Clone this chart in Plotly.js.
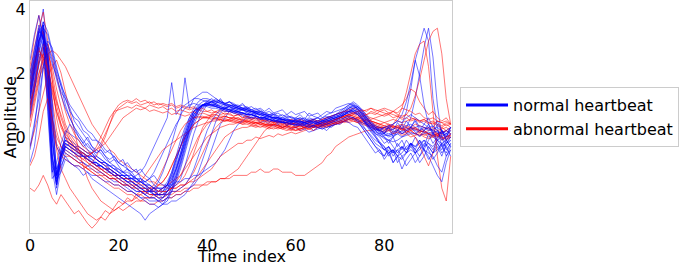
<!DOCTYPE html>
<html>
<head>
<meta charset="utf-8">
<script src="https://cdn.plot.ly/plotly-3.0.1.min.js"></script>
<style>html,body{margin:0;padding:0;background:#fff;}#chart{width:685px;height:265px;}</style>
</head>
<body>
<div id="chart"></div>
<script>
// Time index 0..95
const timeIndex = Array.from({length: 96}, (_, i) => i);
const xTicks = [0, 20, 40, 60, 80];
const yTicks = [0, 2, 4];
const legendLabels = ["normal heartbeat", "abnormal heartbeat"];
const xTitle = "Time index";
const yTitle = "Amplitude";

// ---- normal heartbeats (blue) ----
const normal01 = [1.2,2.2,3.1,3.6,2.0,-0.6,-1.3,-0.4,0.0,-0.1,
-0.2,-0.3,-0.4,-0.5,-0.5,-0.7,-0.8,-0.8,-0.9,-1.0,
-1.1,-1.1,-1.2,-1.3,-1.3,-1.4,-1.5,-1.5,-1.6,-1.7,
-1.7,-1.6,-1.4,-1.0,-0.6,-0.2,0.2,0.5,0.8,1.0,
1.05,1.1,1.05,1.2,1.0,1.1,1.05,0.95,1.05,0.9,
0.95,0.85,0.9,0.8,0.9,0.75,0.8,0.85,0.7,0.8,
0.7,0.75,0.8,0.65,0.7,0.75,0.6,0.7,0.75,0.8,
0.85,0.9,1.0,1.1,1.0,0.85,0.7,0.5,0.35,0.2,
0.1,0.3,0.0,0.2,0.4,0.1,0.3,0.5,0.2,0.4,
0.6,0.3,0.5,0.2,0.0,0.3];
const normal02 = [1.8,2.6,3.3,3.2,1.5,-0.9,-1.5,-0.6,-0.2,-0.3,
-0.4,-0.4,-0.6,-0.7,-0.8,-0.8,-1.0,-1.1,-1.1,-1.2,
-1.3,-1.3,-1.4,-1.5,-1.6,-1.6,-1.7,-1.8,-1.8,-1.9,
-1.9,-1.8,-1.6,-1.3,-0.9,-0.4,0.1,0.5,0.8,0.95,
1.05,1.1,1.1,1.05,1.0,0.95,0.9,0.9,0.85,0.8,
0.8,0.75,0.7,0.65,0.6,0.6,0.55,0.55,0.5,0.5,
0.5,0.5,0.45,0.4,0.45,0.4,0.35,0.4,0.45,0.5,
0.6,0.7,0.8,0.9,0.95,0.85,0.65,0.4,0.2,0.05,
-0.05,-0.1,-0.15,-0.1,0.0,0.05,0.1,0.1,0.2,0.15,
0.1,0.0,-0.1,-0.2,-0.1,0.1];
const normal03 = [1.5,2.4,3.2,4.0,2.6,0.2,-1.6,-0.8,-0.3,-0.2,
-0.3,-0.5,-0.5,-0.6,-0.8,-0.9,-0.9,-1.0,-1.1,-1.2,
-1.2,-1.3,-1.4,-1.4,-1.5,-1.6,-1.6,-1.7,-1.7,-1.8,
-1.8,-1.6,-1.3,-0.9,-0.5,0.0,0.4,0.7,0.9,1.0,
1.1,1.1,1.0,0.9,0.85,0.8,0.75,0.8,0.65,0.6,
0.55,0.6,0.45,0.5,0.4,0.35,0.4,0.3,0.35,0.25,
0.3,0.2,0.25,0.15,0.2,0.25,0.3,0.2,0.35,0.4,
0.45,0.5,0.55,0.6,0.5,0.3,0.1,-0.1,-0.3,-0.5,
-0.6,-0.4,-0.8,-0.6,-1.0,-0.7,-0.5,-0.8,-0.6,-0.4,
-0.7,-0.5,-0.3,-0.6,-0.2,0.0];
const normal04 = [1.0,1.8,2.8,3.3,2.2,-0.2,-1.2,-0.5,-0.1,-0.2,
-0.3,-0.4,-0.5,-0.6,-0.6,-0.7,-0.8,-0.9,-0.9,-1.0,
-1.1,-1.2,-1.2,-1.3,-1.4,-1.4,-1.5,-1.6,-1.6,-1.7,
-1.6,-1.5,-1.2,-0.8,-0.3,0.1,0.5,0.8,0.9,1.0,
1.0,1.0,0.95,0.9,0.9,0.85,0.8,0.8,0.75,0.7,
0.7,0.65,0.6,0.6,0.55,0.55,0.5,0.5,0.45,0.45,
0.4,0.4,0.45,0.4,0.35,0.35,0.4,0.4,0.45,0.5,
0.5,0.55,0.6,0.6,0.55,0.45,0.35,0.25,0.15,0.1,
0.05,0.05,0.1,0.2,0.4,0.8,1.5,2.4,2.9,3.4,
3.0,1.2,0.3,-0.3,-0.2,0.0];
const normal05 = [1.3,2.1,3.0,3.5,2.3,0.0,-1.2,-0.6,-0.3,-0.4,
-0.5,-0.6,-0.6,-0.7,-0.8,-0.8,-0.9,-1.0,-1.0,-1.1,
-1.2,-1.2,-1.3,-1.3,-1.4,-1.5,-1.6,-1.6,-1.7,-1.7,
-1.6,-1.4,-1.1,-0.7,-0.3,0.1,0.5,0.8,0.95,1.0,
1.05,1.0,1.0,0.95,0.9,0.85,0.85,0.8,0.75,0.7,
0.7,0.65,0.6,0.6,0.55,0.5,0.5,0.45,0.45,0.4,
0.4,0.45,0.4,0.45,0.5,0.45,0.5,0.55,0.6,0.65,
0.7,0.75,0.8,0.8,0.7,0.55,0.4,0.25,0.1,0.05,
0.0,-0.1,0.0,0.1,0.2,0.3,0.6,1.2,2.0,2.8,
3.4,2.5,1.0,0.0,-0.4,-0.2];
const normal06 = [0.8,1.6,2.6,3.2,2.4,0.5,-1.0,-0.6,-0.2,-0.3,
-0.4,-0.5,-0.6,-0.6,-0.7,-0.8,-0.9,-1.0,-1.0,-1.1,
-1.2,-1.2,-1.3,-1.3,-1.2,-1.1,-0.9,-0.6,-0.3,0.0,
0.3,0.6,1.7,0.7,0.9,1.0,1.1,1.2,1.2,1.15,
1.1,1.05,1.0,1.0,0.95,0.9,0.9,0.85,0.85,0.8,
0.75,0.75,0.7,0.65,0.65,0.6,0.6,0.55,0.55,0.5,
0.5,0.45,0.5,0.55,0.5,0.45,0.5,0.55,0.6,0.6,
0.65,0.7,0.75,0.8,0.75,0.6,0.45,0.3,0.2,0.1,
0.1,0.05,0.1,0.15,0.1,0.2,0.25,0.2,0.15,0.2,
0.1,0.05,0.1,0.0,0.1,0.2];
const normal07 = [1.4,2.3,3.0,3.4,1.8,-0.7,-1.4,-0.5,-0.1,-0.2,
-0.3,-0.3,-0.4,-0.5,-0.6,-0.6,-0.7,-0.8,-0.9,-0.9,
-1.0,-1.1,-1.1,-1.2,-1.3,-1.3,-1.4,-1.3,-1.1,-0.8,
-0.5,-0.2,0.1,0.4,0.6,1.85,0.9,1.2,1.3,1.4,
1.4,1.3,1.2,1.1,1.05,1.0,0.95,0.9,0.9,0.85,
0.8,0.8,0.75,0.7,0.7,0.65,0.6,0.6,0.55,0.55,
0.5,0.55,0.5,0.45,0.5,0.45,0.5,0.5,0.55,0.6,
0.7,0.8,0.9,1.0,0.95,0.8,0.6,0.4,0.25,0.15,
0.1,0.0,0.05,0.1,0.0,0.1,0.15,0.1,0.05,0.1,
0.15,0.1,0.0,0.05,0.1,0.0];
const normal08 = [1.1,2.0,2.9,3.3,2.0,-0.5,-1.5,-0.7,-0.4,-0.5,
-0.6,-0.7,-0.8,-0.9,-0.9,-1.0,-1.1,-1.2,-1.3,-1.3,
-1.4,-1.5,-1.5,-1.6,-1.7,-1.7,-1.8,-1.9,-1.9,-2.0,
-2.0,-1.9,-1.9,-1.8,-1.8,-1.7,-1.6,-1.5,-1.3,-1.1,
-0.8,-0.4,0.0,0.4,0.6,0.8,0.9,0.95,0.9,0.85,
0.8,0.8,0.75,0.7,0.65,0.6,0.6,0.55,0.5,0.5,
0.45,0.4,0.4,0.35,0.35,0.4,0.35,0.3,0.35,0.4,
0.45,0.5,0.55,0.6,0.55,0.4,0.2,0.0,-0.2,-0.3,
-0.4,-0.5,-0.4,-0.6,-0.5,-0.3,-0.2,-0.3,-0.2,-0.1,
-0.2,-0.3,-0.1,0.0,-0.2,-0.1];
const normal09 = [-0.4,0.3,1.5,2.8,1.2,-1.0,-1.8,-1.0,-0.5,-0.6,
-0.7,-0.8,-0.8,-0.9,-1.0,-1.1,-1.1,-1.2,-1.3,-1.4,
-1.4,-1.5,-1.6,-1.7,-1.8,-1.9,-2.0,-2.1,-2.1,-2.2,
-2.1,-2.0,-1.7,-1.3,-0.8,-0.3,0.2,0.6,0.9,1.0,
1.0,1.0,0.95,0.9,0.9,0.85,0.8,0.75,0.75,0.7,
0.65,0.7,0.55,0.6,0.45,0.55,0.4,0.5,0.35,0.45,
0.3,0.4,0.25,0.35,0.2,0.3,0.25,0.35,0.3,0.4,
0.45,0.5,0.6,0.55,0.45,0.3,0.1,-0.1,-0.3,-0.4,
-0.6,-0.3,-0.5,-0.2,-0.4,-0.1,-0.3,0.0,-0.2,-0.4,
-0.1,0.1,-0.2,-0.5,-0.3,-0.6];
const normal10 = [2.0,2.8,3.5,3.0,1.0,-1.1,-0.8,-0.2,0.2,0.1,
0.0,-0.1,-0.3,-0.2,-0.4,-0.5,-0.4,-0.6,-0.7,-0.6,
-0.8,-0.9,-0.8,-1.0,-1.1,-1.0,-1.2,-1.3,-1.2,-1.4,
-1.5,-1.5,-1.6,-1.5,-1.3,-0.9,-0.4,0.1,0.5,0.8,
1.0,1.1,1.15,1.1,1.05,1.0,1.0,0.95,0.9,0.9,
0.85,0.8,0.8,0.75,0.7,0.7,0.65,0.6,0.65,0.6,
0.55,0.6,0.55,0.5,0.55,0.6,0.55,0.6,0.65,0.7,
0.75,0.8,0.9,0.95,0.9,0.75,0.55,0.4,0.3,0.2,
0.15,0.2,0.25,0.3,0.25,0.35,0.4,0.3,0.35,0.3,
0.2,0.25,0.3,0.2,0.1,0.3];
const normal11 = [0.6,1.4,2.4,3.0,2.6,0.6,-1.2,-0.9,-0.6,-0.8,
-0.9,-1.0,-1.2,-1.1,-1.3,-1.4,-1.5,-1.6,-1.7,-1.8,
-1.9,-2.0,-2.1,-2.2,-2.3,-2.4,-2.6,-2.4,-2.3,-2.2,
-2.1,-1.9,-1.6,-1.2,-0.7,-0.2,0.3,0.7,0.9,1.0,
1.05,1.0,1.0,0.95,0.9,0.85,0.85,0.8,0.75,0.75,
0.7,0.65,0.6,0.6,0.55,0.5,0.5,0.45,0.45,0.4,
0.4,0.35,0.4,0.35,0.3,0.3,0.35,0.4,0.4,0.45,
0.5,0.6,0.7,0.75,0.7,0.55,0.35,0.15,0.0,-0.2,
-0.3,-0.5,-0.4,-0.6,-0.7,-0.5,-0.4,-0.5,-0.3,-0.4,
-0.5,-0.6,-0.9,-1.1,-0.6,-0.3];
const normal12 = [1.3,2.1,3.0,3.5,2.3,0.0,-1.2,-0.6,-0.3,-0.4,
-0.5,-0.6,-0.6,-0.7,-0.8,-0.8,-0.9,-1.0,-1.0,-1.1,
-1.2,-1.2,-1.3,-1.3,-1.4,-1.4,-1.5,-1.5,-1.6,-1.6,
-1.6,-1.5,-1.5,-1.4,-1.4,-1.3,-1.3,-1.2,-1.2,-1.1,
-1.0,-0.9,-0.8,-0.6,-0.4,-0.1,0.2,0.4,0.5,0.6,
0.6,0.65,0.6,0.6,0.55,0.5,0.5,0.45,0.45,0.4,
0.4,0.35,0.35,0.3,0.35,0.3,0.25,0.3,0.35,0.4,
0.4,0.5,0.45,0.35,0.3,0.1,-0.1,-0.3,-0.5,-0.4,
-0.7,-0.5,-0.8,-0.6,-0.3,-0.5,-0.2,-0.4,-0.1,-0.3,
0.1,-0.2,0.0,0.2,-0.1,0.1];
const normal13 = [2.4,3.2,3.8,3.0,0.8,-1.3,-1.1,-0.4,-0.1,-0.2,
-0.3,-0.4,-0.5,-0.6,-0.6,-0.7,-0.8,-0.8,-0.9,-1.0,
-1.0,-1.1,-1.2,-1.2,-1.3,-1.4,-1.4,-1.5,-1.6,-1.6,
-1.7,-1.5,-1.2,-0.7,-0.3,0.2,0.6,0.9,1.1,1.2,
1.2,1.15,1.1,1.05,1.0,1.0,0.95,0.9,0.85,0.85,
0.8,0.75,0.7,0.7,0.65,0.6,0.6,0.55,0.55,0.5,
0.5,0.5,0.45,0.5,0.45,0.5,0.5,0.55,0.6,0.65,
0.7,0.8,0.9,0.95,0.9,0.7,0.5,0.35,0.25,0.2,
0.15,0.1,0.15,0.2,0.15,0.25,0.3,0.25,0.2,0.3,
0.25,0.2,0.15,0.1,0.2,0.3];
const normal14 = [1.6,2.5,3.3,3.1,1.4,-0.8,-1.4,-0.6,-0.2,-0.3,
-0.4,-0.5,-0.6,-0.6,-0.7,-0.9,-0.9,-1.0,-1.1,-1.2,
-1.2,-1.3,-1.4,-1.4,-1.5,-1.6,-1.7,-1.7,-1.8,-1.8,
-1.7,-1.5,-1.1,-0.6,-0.1,0.3,0.6,0.8,0.9,1.0,
1.0,0.95,0.95,0.9,0.85,0.8,0.8,0.75,0.75,0.7,
0.7,0.65,0.6,0.6,0.55,0.6,0.55,0.5,0.45,0.5,
0.45,0.5,0.4,0.45,0.5,0.45,0.4,0.45,0.5,0.55,
0.6,0.7,0.8,0.85,0.8,0.6,0.4,0.2,0.0,-0.2,
-0.4,-0.3,-0.6,-0.4,-0.3,-0.5,-0.2,-0.3,-0.1,-0.4,
-0.6,-0.9,-1.2,-1.4,-0.8,-0.4];
const normal15 = [0.9,1.7,2.7,3.2,1.7,-0.6,-1.5,-0.7,-0.3,-0.4,
-0.5,-0.5,-0.6,-0.7,-0.8,-0.9,-0.9,-1.0,-1.1,-1.1,
-1.2,-1.3,-1.3,-1.4,-1.5,-1.5,-1.6,-1.7,-1.7,-1.8,
-1.8,-1.8,-1.7,-1.7,-1.6,-1.5,-1.3,-1.0,-0.6,-0.2,
0.2,0.5,0.7,0.85,0.9,0.95,0.9,0.85,0.85,0.8,
0.75,0.7,0.7,0.65,0.6,0.6,0.55,0.55,0.5,0.5,
0.5,0.45,0.45,0.5,0.45,0.4,0.45,0.5,0.55,0.6,
0.65,0.75,0.85,0.9,0.85,0.7,0.55,0.4,0.3,0.25,
0.3,0.35,0.4,0.5,0.45,0.6,0.7,0.6,0.5,0.4,
0.3,0.35,0.2,0.1,0.2,0.1];
const normal16 = [-0.8,-0.3,0.8,2.2,2.8,1.0,-1.3,-1.1,-0.7,-0.8,
-0.9,-0.9,-1.0,-1.1,-1.2,-1.2,-1.3,-1.4,-1.4,-1.5,
-1.5,-1.6,-1.7,-1.7,-1.8,-1.9,-1.9,-2.0,-2.0,-2.0,
-1.9,-1.7,-1.4,-1.0,-0.5,0.0,0.4,0.7,0.85,0.95,
1.0,1.0,0.95,0.9,0.85,0.85,0.8,0.75,0.75,0.7,
0.7,0.65,0.6,0.55,0.55,0.5,0.5,0.45,0.45,0.4,
0.6,0.7,0.55,0.75,0.65,0.6,0.7,0.8,0.75,0.9,
0.95,1.0,1.05,1.0,0.85,0.7,0.5,0.35,0.2,0.25,
0.1,0.35,0.2,0.45,0.25,0.5,0.3,0.55,0.3,0.2,
0.4,0.15,-0.1,0.2,0.0,0.3];
const normal17 = [1.5,2.3,3.0,3.4,3.2,2.6,2.0,1.6,1.3,1.0,
0.8,0.6,0.4,0.2,0.1,-0.1,-0.2,-0.4,-0.5,-0.6,
-0.8,-0.9,-1.0,-1.1,-1.3,-1.4,-1.5,-1.6,-1.8,-1.9,
-2.0,-1.9,-1.7,-1.4,-1.0,-0.5,0.0,0.4,0.7,0.9,
1.0,1.1,1.05,1.1,1.0,0.95,1.0,0.9,0.85,0.9,
0.8,0.75,0.8,0.7,0.65,0.7,0.6,0.55,0.6,0.5,
0.55,0.5,0.45,0.5,0.4,0.45,0.5,0.45,0.55,0.6,
0.65,0.7,0.8,0.85,0.75,0.6,0.4,0.3,0.1,0.0,
-0.2,-0.1,-0.3,-0.5,-0.3,-0.4,-0.2,-0.4,-0.6,-0.3,
-0.2,-0.4,-0.1,-0.3,-0.5,-0.2];
const normal18 = [1.9,2.7,3.4,3.1,2.8,2.3,1.9,1.4,1.2,0.8,
0.6,0.5,0.2,0.1,-0.1,-0.1,-0.3,-0.5,-0.4,-0.7,
-0.8,-0.7,-1.0,-1.1,-1.0,-1.3,-1.4,-1.3,-1.5,-1.6,
-1.6,-1.5,-1.3,-1.0,-0.6,-0.1,0.3,0.6,0.8,1.0,
1.1,1.2,1.1,1.15,1.05,1.1,1.0,0.95,1.0,0.9,
0.85,0.9,0.8,0.75,0.8,0.7,0.75,0.65,0.7,0.6,
0.6,0.55,0.6,0.5,0.55,0.6,0.5,0.6,0.65,0.7,
0.75,0.85,0.95,1.0,0.9,0.75,0.6,0.45,0.35,0.3,
0.2,0.3,0.15,0.25,0.1,0.2,0.3,0.15,0.0,0.2,
0.3,0.1,0.4,0.2,-0.1,-0.3];
const normal19 = [1.2,2.0,2.8,3.6,3.3,2.7,2.1,1.7,1.2,0.9,
0.5,0.3,0.1,-0.1,-0.3,-0.4,-0.5,-0.7,-0.8,-0.9,
-1.1,-1.2,-1.2,-1.4,-1.5,-1.6,-1.7,-1.7,-1.8,-1.8,
-1.8,-1.7,-1.5,-1.2,-0.8,-0.3,0.2,0.6,0.85,1.0,
1.05,1.0,1.05,0.95,0.9,0.95,0.85,0.8,0.85,0.75,
0.7,0.75,0.65,0.6,0.65,0.55,0.5,0.55,0.5,0.45,
0.5,0.4,0.45,0.4,0.35,0.45,0.4,0.5,0.55,0.6,
0.65,0.75,0.8,0.85,0.8,0.65,0.45,0.25,0.05,-0.15,
-0.3,-0.6,-0.4,-0.8,-0.6,-0.9,-0.7,-0.5,-0.8,-0.6,
-0.3,-0.5,-0.2,-0.4,-0.1,-0.3];
const normal20 = [0.7,1.5,2.3,3.0,2.9,2.4,1.8,1.3,0.9,0.6,
0.3,0.1,-0.1,-0.3,-0.4,-0.6,-0.7,-0.8,-1.0,-1.1,
-1.2,-1.3,-1.4,-1.5,-1.6,-1.7,-1.8,-1.9,-1.9,-2.0,
-2.1,-2.1,-2.0,-2.0,-1.9,-1.8,-1.6,-1.4,-1.1,-0.7,
-0.3,0.1,0.5,0.75,0.9,1.0,0.95,0.9,0.9,0.85,
0.8,0.75,0.75,0.7,0.65,0.6,0.6,0.55,0.5,0.5,
0.45,0.5,0.45,0.4,0.45,0.4,0.45,0.5,0.5,0.55,
0.6,0.7,0.75,0.8,0.7,0.55,0.4,0.3,0.25,0.2,
0.3,0.25,0.4,0.5,0.7,1.1,1.7,2.4,1.9,1.0,
0.4,0.1,0.2,-0.1,0.0,0.2];
const normal21 = [1.7,2.5,3.3,3.5,2.5,1.1,-0.3,-0.6,0.1,0.4,
0.2,0.0,-0.2,0.0,-0.3,-0.5,-0.4,-0.6,-0.8,-0.7,
-0.9,-1.1,-1.0,-1.2,-1.4,-1.3,-1.5,-1.7,-1.6,-1.8,
-1.9,-1.7,-1.5,-1.1,-0.6,-0.1,0.4,0.8,1.0,1.1,
1.15,1.1,1.2,1.1,1.05,1.1,1.0,1.0,0.9,0.95,
0.85,0.8,0.85,0.75,0.7,0.75,0.65,0.7,0.6,0.65,
0.55,0.6,0.5,0.6,0.55,0.5,0.6,0.65,0.6,0.7,
0.8,0.9,1.0,1.05,0.95,0.8,0.6,0.45,0.3,0.15,
0.0,-0.2,0.0,-0.3,-0.1,-0.4,-0.2,-0.5,-0.3,-0.1,
-0.4,-0.7,-0.5,-0.2,-0.6,-0.4];
const normal22 = [-0.3,0.4,1.2,2.2,3.0,2.8,2.2,1.5,1.0,0.6,
0.3,0.0,-0.2,-0.4,-0.5,-0.7,-0.8,-0.9,-1.1,-1.2,
-1.3,-1.4,-1.5,-1.6,-1.7,-1.7,-1.8,-1.7,-1.6,-1.4,
-1.1,-0.7,-0.2,0.3,0.7,0.9,1.0,1.05,1.0,1.0,
0.95,0.9,0.9,0.85,0.8,0.8,0.75,0.7,0.7,0.65,
0.6,0.6,0.55,0.55,0.5,0.5,0.45,0.45,0.4,0.4,
0.35,0.4,0.35,0.3,0.35,0.3,0.35,0.4,0.45,0.5,
0.55,0.6,0.65,0.6,0.5,0.35,0.2,0.05,-0.1,-0.2,
-0.4,-0.3,-0.5,-0.4,-0.6,-0.5,-0.3,-0.5,-0.4,-0.2,
-0.3,-0.5,-0.4,-0.2,-0.3,-0.1];

// ---- abnormal heartbeats (red) ----
const abnormal01 = [1.0,1.5,2.0,2.4,2.6,2.7,2.6,2.4,2.2,1.9,
1.6,1.3,1.0,0.7,0.4,0.2,0.0,-0.2,-0.4,-0.5,
-0.7,-0.8,-0.9,-1.0,-1.1,-1.2,-1.3,-1.4,-1.4,-1.5,
-1.5,-1.6,-1.6,-1.5,-1.4,-1.2,-0.9,-0.5,-0.1,0.3,
0.5,0.7,0.8,0.85,0.8,0.8,0.75,0.7,0.7,0.65,
0.6,0.6,0.55,0.5,0.5,0.45,0.5,0.45,0.4,0.45,
0.4,0.35,0.4,0.45,0.4,0.5,0.45,0.55,0.6,0.55,
0.6,0.7,0.65,0.7,0.75,0.7,0.65,0.6,0.55,0.5,
0.45,0.4,0.35,0.3,0.35,0.3,0.25,0.3,0.2,0.25,
0.3,0.2,0.1,0.15,0.2,0.3];
const abnormal02 = [1.2,2.0,2.6,2.5,1.6,0.6,0.0,-0.3,-0.4,-0.5,
-0.6,-0.6,-0.7,-0.6,-0.5,-0.4,-0.2,0.1,0.4,0.7,
0.9,1.0,1.1,1.05,1.1,1.0,1.05,1.1,1.0,1.05,
1.0,0.95,1.0,0.9,0.95,0.9,0.85,0.9,0.85,0.8,
0.8,0.75,0.8,0.7,0.75,0.7,0.65,0.7,0.6,0.65,
0.6,0.55,0.6,0.5,0.55,0.5,0.45,0.5,0.4,0.45,
0.4,0.45,0.35,0.4,0.35,0.4,0.45,0.4,0.5,0.45,
0.5,0.55,0.6,0.55,0.5,0.45,0.4,0.35,0.3,0.3,
0.25,0.2,0.25,0.3,0.2,0.25,0.3,0.25,0.2,0.15,
0.2,0.25,0.1,0.15,0.2,0.1];
const abnormal03 = [-1.6,-1.7,-1.5,-1.2,-1.5,-1.9,-2.1,-1.8,-2.0,-2.2,
-2.4,-2.3,-2.5,-2.7,-2.85,-2.7,-2.5,-2.3,-2.4,-2.2,
-2.0,-2.1,-1.9,-2.0,-1.8,-1.7,-1.8,-1.6,-1.7,-1.5,
-1.4,-1.2,-0.9,-0.6,-0.3,0.0,0.2,0.4,0.5,0.6,
0.6,0.65,0.6,0.55,0.6,0.5,0.55,0.5,0.45,0.5,
0.45,0.4,0.45,0.4,0.35,0.4,0.35,0.3,0.35,0.3,
0.3,0.25,0.3,0.35,0.3,0.35,0.4,0.35,0.4,0.45,
0.5,0.45,0.5,0.55,0.5,0.45,0.4,0.35,0.3,0.25,
0.2,0.25,0.15,0.2,0.1,0.15,0.2,0.1,0.05,0.1,
0.0,0.05,0.1,0.0,-0.1,0.0];
const abnormal04 = [0.5,1.2,1.8,2.2,2.0,1.4,0.8,0.4,0.1,-0.1,
-0.3,-0.4,-0.6,-0.7,-0.8,-0.9,-1.0,-1.1,-1.2,-1.3,
-1.3,-1.4,-1.5,-1.5,-1.6,-1.7,-1.7,-1.8,-1.8,-1.9,
-1.9,-1.8,-1.8,-1.7,-1.7,-1.6,-1.6,-1.5,-1.5,-1.5,
-1.4,-1.4,-1.4,-1.3,-1.3,-1.3,-1.2,-1.2,-1.2,-1.2,
-1.1,-1.1,-1.0,-1.1,-1.1,-1.0,-1.0,-1.1,-1.1,-1.1,
-1.2,-1.2,-1.2,-1.1,-1.0,-0.9,-0.8,-0.6,-0.5,-0.3,
-0.2,-0.1,0.0,0.05,0.1,0.15,0.2,0.2,0.25,0.3,
0.3,0.35,0.3,0.35,0.4,0.35,0.3,0.4,0.35,0.3,
0.25,0.3,0.2,0.25,0.3,0.2];
const abnormal05 = [1.4,2.2,3.0,3.3,2.4,1.2,0.2,-0.3,-0.5,-0.6,
-0.7,-0.8,-0.9,-1.0,-1.1,-1.2,-1.2,-1.3,-1.4,-1.5,
-1.5,-1.6,-1.7,-1.7,-1.8,-1.8,-1.9,-1.9,-1.9,-1.8,
-1.8,-1.7,-1.6,-1.4,-1.2,-0.9,-0.6,-0.3,0.0,0.2,
0.4,0.5,0.6,0.6,0.65,0.6,0.6,0.55,0.5,0.5,
0.45,0.45,0.4,0.4,0.35,0.4,0.35,0.3,0.35,0.3,
0.35,0.3,0.35,0.4,0.35,0.4,0.45,0.5,0.5,0.55,
0.6,0.6,0.65,0.6,0.55,0.5,0.45,0.4,0.35,0.3,
0.3,0.35,0.4,0.6,0.9,1.4,2.0,2.6,2.9,3.0,
2.2,0.8,-0.6,-1.6,-2.0,-0.6];
const abnormal06 = [2.0,2.8,3.4,3.9,3.0,1.8,0.6,0.0,-0.3,-0.4,
-0.5,-0.6,-0.7,-0.8,-0.9,-1.0,-1.0,-1.1,-1.2,-1.2,
-1.3,-1.4,-1.4,-1.5,-1.5,-1.6,-1.6,-1.7,-1.6,-1.5,
-1.4,-1.2,-0.9,-0.6,-0.3,0.0,0.2,0.4,0.5,0.6,
0.65,0.7,0.7,0.65,0.65,0.6,0.6,0.55,0.55,0.5,
0.5,0.45,0.45,0.4,0.4,0.4,0.35,0.4,0.35,0.4,
0.45,0.4,0.45,0.5,0.55,0.5,0.55,0.6,0.65,0.7,
0.75,0.8,0.8,0.75,0.7,0.65,0.6,0.55,0.6,0.65,
0.7,0.75,0.7,0.65,0.6,0.7,0.9,1.3,1.8,2.4,
3.0,3.3,3.4,2.6,1.2,0.4];
const abnormal07 = [0.3,1.0,1.8,2.4,2.6,2.2,1.5,0.9,0.4,0.1,
-0.1,-0.3,-0.4,-0.5,-0.5,-0.4,-0.3,-0.2,0.0,0.2,
0.4,0.6,0.7,0.8,0.9,0.85,0.9,0.8,0.85,0.8,
0.75,0.8,0.7,0.75,0.7,0.65,0.7,0.6,0.65,0.6,
0.6,0.55,0.6,0.5,0.55,0.5,0.5,0.45,0.5,0.45,
0.4,0.45,0.4,0.35,0.4,0.35,0.3,0.35,0.3,0.25,
0.3,0.25,0.3,0.35,0.3,0.4,0.35,0.45,0.5,0.55,
0.6,0.65,0.7,0.75,0.8,0.75,0.7,0.8,0.75,0.7,
0.65,0.7,0.6,0.65,0.55,0.6,0.5,0.55,0.45,0.5,
0.4,0.45,0.35,0.3,0.4,0.3];
const abnormal08 = [0.8,1.6,2.3,2.8,2.5,1.8,1.0,0.4,0.0,-0.3,
-0.5,-0.7,-0.8,-1.0,-1.1,-1.2,-1.3,-1.4,-1.5,-1.6,
-1.6,-1.7,-1.8,-1.8,-1.9,-2.0,-2.0,-2.1,-2.1,-2.0,
-2.0,-1.9,-1.9,-1.8,-1.8,-1.7,-1.7,-1.6,-1.6,-1.5,
-1.5,-1.4,-1.4,-1.3,-1.3,-1.2,-1.1,-1.0,-0.8,-0.6,
-0.4,-0.2,0.0,0.2,0.3,0.4,0.45,0.5,0.5,0.55,
0.5,0.55,0.5,0.45,0.5,0.45,0.4,0.45,0.5,0.55,
0.6,0.65,0.7,0.65,0.6,0.55,0.5,0.45,0.4,0.35,
0.3,0.25,0.3,0.2,0.25,0.15,0.2,0.1,0.15,0.05,
0.1,0.0,0.05,-0.05,0.0,0.1];
const abnormal09 = [2.2,3.1,3.8,3.2,2.0,0.6,-0.2,-0.5,-0.6,-0.6,
-0.7,-0.8,-0.9,-1.0,-1.0,-1.1,-1.2,-1.2,-1.3,-1.3,
-1.4,-1.5,-1.5,-1.6,-1.5,-1.4,-1.2,-1.0,-0.8,-0.6,
-0.4,-0.3,-0.2,-0.1,0.0,0.1,0.2,0.3,0.35,0.4,
0.45,0.5,0.5,0.55,0.5,0.55,0.5,0.5,0.45,0.5,
0.45,0.4,0.45,0.4,0.35,0.4,0.35,0.3,0.35,0.3,
0.3,0.35,0.3,0.35,0.3,0.4,0.45,0.4,0.45,0.5,
0.55,0.6,0.65,0.7,0.65,0.6,0.55,0.5,0.45,0.4,
0.45,0.5,0.55,0.5,0.45,0.5,0.55,0.6,0.5,0.55,
0.45,0.4,0.5,0.45,0.35,0.4];
const abnormal10 = [-0.3,0.2,0.8,1.4,1.9,2.2,2.4,2.0,1.4,0.8,
0.2,-0.4,-0.9,-1.3,-1.6,-1.8,-2.0,-2.1,-2.2,-2.3,
-2.2,-2.3,-2.2,-2.1,-2.0,-2.0,-1.9,-1.9,-1.8,-1.7,
-1.6,-1.5,-1.4,-1.3,-1.2,-1.0,-0.8,-0.6,-0.4,-0.2,
0.0,0.1,0.2,0.3,0.35,0.4,0.4,0.45,0.4,0.45,
0.4,0.35,0.4,0.35,0.3,0.35,0.3,0.25,0.3,0.25,
0.2,0.25,0.3,0.25,0.3,0.35,0.3,0.35,0.4,0.45,
0.4,0.5,0.55,0.5,0.45,0.5,0.45,0.4,0.35,0.3,
0.25,0.3,0.35,0.3,0.25,0.2,0.25,0.3,0.2,0.15,
0.1,0.05,0.1,0.0,-0.05,0.0];
const abnormal11 = [1.8,2.4,2.8,2.3,1.2,0.3,-0.3,-0.6,-0.7,-0.8,
-0.9,-0.9,-1.0,-0.9,-0.8,-0.6,-0.3,0.0,0.4,0.8,
1.0,1.1,1.15,1.1,1.2,1.1,1.15,1.05,1.1,1.0,
1.05,1.0,1.05,0.95,1.0,0.95,0.9,0.95,0.85,0.9,
0.8,0.85,0.75,0.8,0.7,0.75,0.65,0.7,0.6,0.65,
0.55,0.6,0.5,0.55,0.5,0.45,0.5,0.4,0.45,0.4,
0.35,0.4,0.35,0.3,0.35,0.3,0.35,0.4,0.35,0.4,
0.45,0.5,0.45,0.5,0.45,0.4,0.35,0.3,0.25,0.2,
0.15,0.2,0.1,0.15,0.05,0.1,0.0,0.05,0.1,0.0,
-0.05,0.0,0.05,-0.1,0.0,0.05];
const abnormal12 = [0.6,1.3,2.0,2.6,2.9,2.5,1.9,1.3,0.8,0.4,
0.1,-0.1,-0.3,-0.4,-0.6,-0.7,-0.8,-0.9,-1.0,-1.1,
-1.2,-1.3,-1.3,-1.4,-1.5,-1.6,-1.6,-1.7,-1.7,-1.8,
-1.8,-1.8,-1.7,-1.7,-1.6,-1.5,-1.3,-1.1,-0.8,-0.5,
-0.2,0.1,0.3,0.45,0.5,0.55,0.6,0.6,0.55,0.6,
0.55,0.5,0.55,0.5,0.45,0.5,0.45,0.4,0.45,0.4,
0.45,0.5,0.45,0.5,0.55,0.5,0.55,0.6,0.65,0.7,
0.75,0.8,0.85,0.9,0.85,0.8,0.85,0.9,0.8,0.85,
0.9,0.85,0.8,0.9,1.0,1.2,1.5,1.4,1.1,0.9,
0.7,0.8,0.6,0.5,0.6,0.4];
const abnormal13 = [1.0,1.7,2.4,2.9,2.7,2.0,1.2,0.6,0.2,-0.1,
-0.3,-0.5,-0.6,-0.8,-0.9,-1.0,-1.1,-1.2,-1.3,-1.3,
-1.4,-1.5,-1.5,-1.6,-1.6,-1.7,-1.7,-1.8,-1.8,-1.8,
-1.7,-1.7,-1.6,-1.6,-1.5,-1.5,-1.4,-1.3,-1.2,-1.0,
-0.8,-0.6,-0.4,-0.2,0.0,0.1,0.2,0.25,0.3,0.3,
0.35,0.3,0.35,0.3,0.25,0.3,0.25,0.3,0.25,0.2,
0.25,0.2,0.25,0.3,0.35,0.3,0.35,0.4,0.45,0.4,
0.45,0.5,0.55,0.6,0.55,0.5,0.55,0.5,0.45,0.4,
0.35,0.4,0.3,0.35,0.25,0.3,0.2,0.25,0.15,0.2,
0.1,0.15,0.05,0.1,0.0,0.05];
const abnormal14 = [-0.9,-0.6,0.0,0.8,1.2,0.6,-0.4,-1.0,-1.3,-1.6,
-1.8,-2.0,-2.2,-2.4,-2.5,-2.6,-2.5,-2.6,-2.4,-2.3,
-2.2,-2.1,-2.0,-2.0,-1.9,-1.8,-1.7,-1.6,-1.5,-1.3,
-1.0,-0.7,-0.4,-0.1,0.2,0.4,0.5,0.6,0.6,0.65,
0.6,0.6,0.55,0.55,0.5,0.5,0.45,0.45,0.4,0.4,
0.35,0.35,0.3,0.35,0.3,0.25,0.3,0.25,0.2,0.25,
0.2,0.25,0.3,0.25,0.3,0.35,0.4,0.45,0.5,0.55,
0.6,0.65,0.7,0.65,0.6,0.55,0.5,0.5,0.45,0.4,
0.35,0.3,0.35,0.25,0.3,0.2,0.1,0.0,-0.3,-0.6,
-0.9,-0.5,0.0,0.3,0.2,0.1];
const abnormal15 = [1.6,2.3,2.7,2.5,2.1,1.6,1.1,0.7,0.3,0.0,
-0.2,-0.4,-0.5,-0.7,-0.8,-0.9,-1.0,-1.0,-1.1,-1.2,
-1.2,-1.3,-1.3,-1.4,-1.4,-1.5,-1.5,-1.6,-1.6,-1.7,
-1.7,-1.7,-1.6,-1.6,-1.5,-1.5,-1.4,-1.4,-1.3,-1.2,
-1.1,-1.0,-0.8,-0.6,-0.5,-0.4,-0.3,-0.2,-0.2,-0.1,
-0.1,0.0,-0.05,0.0,0.05,0.0,0.1,0.05,0.1,0.15,
0.1,0.15,0.2,0.25,0.2,0.3,0.35,0.3,0.4,0.45,
0.5,0.55,0.6,0.55,0.6,0.65,0.7,0.75,0.7,0.8,
0.75,0.7,0.8,0.75,0.9,0.85,0.8,0.7,0.75,0.6,
0.55,0.6,0.5,0.45,0.5,0.4];
const abnormal16 = [0.9,1.6,2.3,2.6,2.2,1.5,0.8,0.3,0.0,-0.2,
-0.4,-0.5,-0.5,-0.6,-0.5,-0.3,0.0,0.3,0.6,0.8,
0.85,0.9,0.95,0.9,1.0,0.95,0.9,1.0,0.95,0.9,
0.95,0.85,0.9,0.8,0.85,0.8,0.75,0.8,0.7,0.75,
0.7,0.65,0.7,0.6,0.65,0.6,0.55,0.6,0.5,0.55,
0.5,0.45,0.5,0.45,0.4,0.45,0.4,0.35,0.4,0.35,
0.3,0.35,0.3,0.35,0.4,0.35,0.45,0.5,0.45,0.55,
0.6,0.65,0.7,0.75,0.8,0.85,0.8,0.9,0.85,0.8,
0.85,0.75,0.8,0.7,0.65,0.7,0.6,0.55,0.5,0.55,
0.45,0.5,0.4,0.35,0.45,0.4];

const normalBeats = [normal01, normal02, normal03, normal04, normal05, normal06, normal07, normal08,
  normal09, normal10, normal11, normal12, normal13, normal14, normal15, normal16,
  normal17, normal18, normal19, normal20, normal21, normal22];
const abnormalBeats = [abnormal01, abnormal02, abnormal03, abnormal04, abnormal05, abnormal06, abnormal07,
  abnormal08, abnormal09, abnormal10, abnormal11, abnormal12, abnormal13, abnormal14, abnormal15, abnormal16];

const BLUE = '#0000ff', RED = '#ff0000';
const traces = [];
const n = Math.max(normalBeats.length, abnormalBeats.length);
for (let i = 0; i < n; i++) {
  if (i < normalBeats.length) traces.push({x: timeIndex, y: normalBeats[i], type: 'scatter', mode: 'lines',
    line: {color: BLUE, width: 0.9}, opacity: 0.6, showlegend: false, hoverinfo: 'skip'});
  if (i < abnormalBeats.length) traces.push({x: timeIndex, y: abnormalBeats[i], type: 'scatter', mode: 'lines',
    line: {color: RED, width: 0.9}, opacity: 0.6, showlegend: false, hoverinfo: 'skip'});
}
// legend entries
traces.push({x: [null], y: [null], type: 'scatter', mode: 'lines', name: legendLabels[0], line: {color: BLUE, width: 3}});
traces.push({x: [null], y: [null], type: 'scatter', mode: 'lines', name: legendLabels[1], line: {color: RED, width: 3}});

const font = {family: "'DejaVu Sans', sans-serif", size: 16, color: '#000'};
const layout = {
  width: 685, height: 265,
  margin: {l: 30, r: 233, t: 1, b: 32},
  paper_bgcolor: '#fff', plot_bgcolor: '#fff',
  font: font,
  showlegend: true,
  legend: {x: 1.019, xanchor: 'left', y: 0.5, yanchor: 'middle', bgcolor: '#fff',
    bordercolor: '#cccccc', borderwidth: 1, font: font, tracegroupgap: 0, itemwidth: 42},
  xaxis: {range: [0, 95.3], tickvals: xTicks, ticktext: xTicks.map(String), showgrid: false, zeroline: false,
    showline: true, mirror: true, linecolor: '#cccccc', linewidth: 1, ticks: '',
    tickfont: font, ticklabelstandoff: -2},
  yaxis: {range: [-3.0, 4.25], tickvals: yTicks, ticktext: yTicks.map(String), showgrid: false, zeroline: false,
    showline: true, mirror: true, linecolor: '#cccccc', linewidth: 1, ticks: '',
    tickfont: font, ticklabeloverflow: 'allow'},
  annotations: [
    {text: xTitle, xref: 'paper', yref: 'paper', x: 0.5, y: -0.1, xanchor: 'center', yanchor: 'middle',
      showarrow: false, font: font, borderpad: 0},
    {text: yTitle, xref: 'paper', yref: 'paper', x: -0.047, y: 0.5, xanchor: 'center', yanchor: 'middle',
      textangle: -90, showarrow: false, font: font, borderpad: 0}
  ]
};
Plotly.newPlot('chart', traces, layout, {displayModeBar: false, staticPlot: true});
</script>
</body>
</html>
